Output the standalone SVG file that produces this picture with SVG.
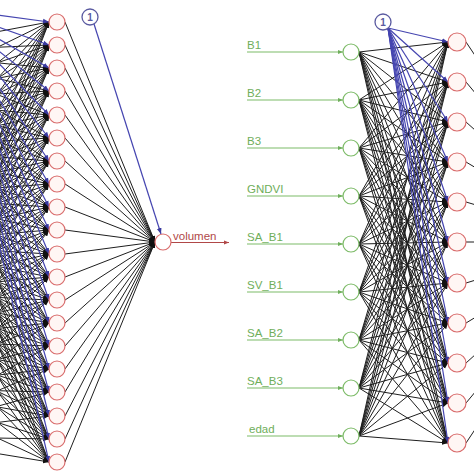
<svg xmlns="http://www.w3.org/2000/svg" width="474" height="474" viewBox="0 0 474 474">
<defs>
<marker id="ah" viewBox="0 0 10 10" refX="10" refY="5" markerWidth="6" markerHeight="6" markerUnits="userSpaceOnUse" orient="auto"><path d="M0,1 L10,5 L0,9 z" fill="#111"/></marker>
<marker id="ahb" viewBox="0 0 10 10" refX="10" refY="5" markerWidth="6" markerHeight="6" markerUnits="userSpaceOnUse" orient="auto"><path d="M0,1 L10,5 L0,9 z" fill="#3a3aa0"/></marker>
<marker id="ahg" viewBox="0 0 10 10" refX="10" refY="5" markerWidth="5" markerHeight="5" markerUnits="userSpaceOnUse" orient="auto"><path d="M0,1 L10,5 L0,9 z" fill="#6fae5a"/></marker>
<marker id="ahr" viewBox="0 0 10 10" refX="10" refY="5" markerWidth="5" markerHeight="5" markerUnits="userSpaceOnUse" orient="auto"><path d="M0,1 L10,5 L0,9 z" fill="#b04848"/></marker>
</defs>
<style>
.k line{stroke:#1e1e1e;stroke-width:1;marker-end:url(#ah)}
.b line{stroke:#4545b0;stroke-width:1.2;marker-end:url(#ahb)}
.g line{stroke:#7dbb68;stroke-width:1.2;marker-end:url(#ahg)}
.hid{fill:#fff6f4;stroke:#d96c6c;stroke-width:1.2}
.inp{fill:#fff;stroke:#7dbb68;stroke-width:1.2}
.bias{fill:#fff;stroke:#5a5aa0;stroke-width:1.3}
.bt{font-family:"Liberation Sans",Arial,sans-serif;font-size:10px;font-weight:bold;fill:#5a5aa0;text-anchor:middle}
.lab{font-family:"Liberation Sans",Arial,sans-serif;font-size:11.5px;fill:#6fae5a}
.out{font-family:"Liberation Sans",Arial,sans-serif;font-size:11.5px;fill:#b04848}
</style>
<rect width="474" height="474" fill="#fff"/>
<g id="connectors">
<g class="k">
<line x1="-110" y1="52" x2="49" y2="22"/><line x1="-110" y1="52" x2="49" y2="45"/><line x1="-110" y1="52" x2="49" y2="68"/><line x1="-110" y1="52" x2="49" y2="91"/><line x1="-110" y1="52" x2="49" y2="115"/><line x1="-110" y1="52" x2="49" y2="138"/><line x1="-110" y1="52" x2="49" y2="161"/><line x1="-110" y1="52" x2="49" y2="184"/><line x1="-110" y1="52" x2="49" y2="207"/><line x1="-110" y1="52" x2="49" y2="230"/><line x1="-110" y1="52" x2="49" y2="254"/><line x1="-110" y1="52" x2="49" y2="277"/><line x1="-110" y1="52" x2="49" y2="300"/><line x1="-110" y1="52" x2="49" y2="323"/><line x1="-110" y1="52" x2="49" y2="346"/><line x1="-110" y1="52" x2="49" y2="369"/><line x1="-110" y1="52" x2="49" y2="392"/><line x1="-110" y1="52" x2="49" y2="416"/><line x1="-110" y1="52" x2="49" y2="439"/><line x1="-110" y1="52" x2="49" y2="462"/>
<line x1="-110" y1="100" x2="49" y2="22"/><line x1="-110" y1="100" x2="49" y2="45"/><line x1="-110" y1="100" x2="49" y2="68"/><line x1="-110" y1="100" x2="49" y2="91"/><line x1="-110" y1="100" x2="49" y2="115"/><line x1="-110" y1="100" x2="49" y2="138"/><line x1="-110" y1="100" x2="49" y2="161"/><line x1="-110" y1="100" x2="49" y2="184"/><line x1="-110" y1="100" x2="49" y2="207"/><line x1="-110" y1="100" x2="49" y2="230"/><line x1="-110" y1="100" x2="49" y2="254"/><line x1="-110" y1="100" x2="49" y2="277"/><line x1="-110" y1="100" x2="49" y2="300"/><line x1="-110" y1="100" x2="49" y2="323"/><line x1="-110" y1="100" x2="49" y2="346"/><line x1="-110" y1="100" x2="49" y2="369"/><line x1="-110" y1="100" x2="49" y2="392"/><line x1="-110" y1="100" x2="49" y2="416"/><line x1="-110" y1="100" x2="49" y2="439"/><line x1="-110" y1="100" x2="49" y2="462"/>
<line x1="-110" y1="148" x2="49" y2="22"/><line x1="-110" y1="148" x2="49" y2="45"/><line x1="-110" y1="148" x2="49" y2="68"/><line x1="-110" y1="148" x2="49" y2="91"/><line x1="-110" y1="148" x2="49" y2="115"/><line x1="-110" y1="148" x2="49" y2="138"/><line x1="-110" y1="148" x2="49" y2="161"/><line x1="-110" y1="148" x2="49" y2="184"/><line x1="-110" y1="148" x2="49" y2="207"/><line x1="-110" y1="148" x2="49" y2="230"/><line x1="-110" y1="148" x2="49" y2="254"/><line x1="-110" y1="148" x2="49" y2="277"/><line x1="-110" y1="148" x2="49" y2="300"/><line x1="-110" y1="148" x2="49" y2="323"/><line x1="-110" y1="148" x2="49" y2="346"/><line x1="-110" y1="148" x2="49" y2="369"/><line x1="-110" y1="148" x2="49" y2="392"/><line x1="-110" y1="148" x2="49" y2="416"/><line x1="-110" y1="148" x2="49" y2="439"/><line x1="-110" y1="148" x2="49" y2="462"/>
<line x1="-110" y1="196" x2="49" y2="22"/><line x1="-110" y1="196" x2="49" y2="45"/><line x1="-110" y1="196" x2="49" y2="68"/><line x1="-110" y1="196" x2="49" y2="91"/><line x1="-110" y1="196" x2="49" y2="115"/><line x1="-110" y1="196" x2="49" y2="138"/><line x1="-110" y1="196" x2="49" y2="161"/><line x1="-110" y1="196" x2="49" y2="184"/><line x1="-110" y1="196" x2="49" y2="207"/><line x1="-110" y1="196" x2="49" y2="230"/><line x1="-110" y1="196" x2="49" y2="254"/><line x1="-110" y1="196" x2="49" y2="277"/><line x1="-110" y1="196" x2="49" y2="300"/><line x1="-110" y1="196" x2="49" y2="323"/><line x1="-110" y1="196" x2="49" y2="346"/><line x1="-110" y1="196" x2="49" y2="369"/><line x1="-110" y1="196" x2="49" y2="392"/><line x1="-110" y1="196" x2="49" y2="416"/><line x1="-110" y1="196" x2="49" y2="439"/><line x1="-110" y1="196" x2="49" y2="462"/>
<line x1="-110" y1="244" x2="49" y2="22"/><line x1="-110" y1="244" x2="49" y2="45"/><line x1="-110" y1="244" x2="49" y2="68"/><line x1="-110" y1="244" x2="49" y2="91"/><line x1="-110" y1="244" x2="49" y2="115"/><line x1="-110" y1="244" x2="49" y2="138"/><line x1="-110" y1="244" x2="49" y2="161"/><line x1="-110" y1="244" x2="49" y2="184"/><line x1="-110" y1="244" x2="49" y2="207"/><line x1="-110" y1="244" x2="49" y2="230"/><line x1="-110" y1="244" x2="49" y2="254"/><line x1="-110" y1="244" x2="49" y2="277"/><line x1="-110" y1="244" x2="49" y2="300"/><line x1="-110" y1="244" x2="49" y2="323"/><line x1="-110" y1="244" x2="49" y2="346"/><line x1="-110" y1="244" x2="49" y2="369"/><line x1="-110" y1="244" x2="49" y2="392"/><line x1="-110" y1="244" x2="49" y2="416"/><line x1="-110" y1="244" x2="49" y2="439"/><line x1="-110" y1="244" x2="49" y2="462"/>
<line x1="-110" y1="292" x2="49" y2="22"/><line x1="-110" y1="292" x2="49" y2="45"/><line x1="-110" y1="292" x2="49" y2="68"/><line x1="-110" y1="292" x2="49" y2="91"/><line x1="-110" y1="292" x2="49" y2="115"/><line x1="-110" y1="292" x2="49" y2="138"/><line x1="-110" y1="292" x2="49" y2="161"/><line x1="-110" y1="292" x2="49" y2="184"/><line x1="-110" y1="292" x2="49" y2="207"/><line x1="-110" y1="292" x2="49" y2="230"/><line x1="-110" y1="292" x2="49" y2="254"/><line x1="-110" y1="292" x2="49" y2="277"/><line x1="-110" y1="292" x2="49" y2="300"/><line x1="-110" y1="292" x2="49" y2="323"/><line x1="-110" y1="292" x2="49" y2="346"/><line x1="-110" y1="292" x2="49" y2="369"/><line x1="-110" y1="292" x2="49" y2="392"/><line x1="-110" y1="292" x2="49" y2="416"/><line x1="-110" y1="292" x2="49" y2="439"/><line x1="-110" y1="292" x2="49" y2="462"/>
<line x1="-110" y1="340" x2="49" y2="22"/><line x1="-110" y1="340" x2="49" y2="45"/><line x1="-110" y1="340" x2="49" y2="68"/><line x1="-110" y1="340" x2="49" y2="91"/><line x1="-110" y1="340" x2="49" y2="115"/><line x1="-110" y1="340" x2="49" y2="138"/><line x1="-110" y1="340" x2="49" y2="161"/><line x1="-110" y1="340" x2="49" y2="184"/><line x1="-110" y1="340" x2="49" y2="207"/><line x1="-110" y1="340" x2="49" y2="230"/><line x1="-110" y1="340" x2="49" y2="254"/><line x1="-110" y1="340" x2="49" y2="277"/><line x1="-110" y1="340" x2="49" y2="300"/><line x1="-110" y1="340" x2="49" y2="323"/><line x1="-110" y1="340" x2="49" y2="346"/><line x1="-110" y1="340" x2="49" y2="369"/><line x1="-110" y1="340" x2="49" y2="392"/><line x1="-110" y1="340" x2="49" y2="416"/><line x1="-110" y1="340" x2="49" y2="439"/><line x1="-110" y1="340" x2="49" y2="462"/>
<line x1="-110" y1="388" x2="49" y2="22"/><line x1="-110" y1="388" x2="49" y2="45"/><line x1="-110" y1="388" x2="49" y2="68"/><line x1="-110" y1="388" x2="49" y2="91"/><line x1="-110" y1="388" x2="49" y2="115"/><line x1="-110" y1="388" x2="49" y2="138"/><line x1="-110" y1="388" x2="49" y2="161"/><line x1="-110" y1="388" x2="49" y2="184"/><line x1="-110" y1="388" x2="49" y2="207"/><line x1="-110" y1="388" x2="49" y2="230"/><line x1="-110" y1="388" x2="49" y2="254"/><line x1="-110" y1="388" x2="49" y2="277"/><line x1="-110" y1="388" x2="49" y2="300"/><line x1="-110" y1="388" x2="49" y2="323"/><line x1="-110" y1="388" x2="49" y2="346"/><line x1="-110" y1="388" x2="49" y2="369"/><line x1="-110" y1="388" x2="49" y2="392"/><line x1="-110" y1="388" x2="49" y2="416"/><line x1="-110" y1="388" x2="49" y2="439"/><line x1="-110" y1="388" x2="49" y2="462"/>
<line x1="-110" y1="436" x2="49" y2="22"/><line x1="-110" y1="436" x2="49" y2="45"/><line x1="-110" y1="436" x2="49" y2="68"/><line x1="-110" y1="436" x2="49" y2="91"/><line x1="-110" y1="436" x2="49" y2="115"/><line x1="-110" y1="436" x2="49" y2="138"/><line x1="-110" y1="436" x2="49" y2="161"/><line x1="-110" y1="436" x2="49" y2="184"/><line x1="-110" y1="436" x2="49" y2="207"/><line x1="-110" y1="436" x2="49" y2="230"/><line x1="-110" y1="436" x2="49" y2="254"/><line x1="-110" y1="436" x2="49" y2="277"/><line x1="-110" y1="436" x2="49" y2="300"/><line x1="-110" y1="436" x2="49" y2="323"/><line x1="-110" y1="436" x2="49" y2="346"/><line x1="-110" y1="436" x2="49" y2="369"/><line x1="-110" y1="436" x2="49" y2="392"/><line x1="-110" y1="436" x2="49" y2="416"/><line x1="-110" y1="436" x2="49" y2="439"/><line x1="-110" y1="436" x2="49" y2="462"/>
<line x1="65" y1="22" x2="155" y2="242"/><line x1="65" y1="45" x2="155" y2="242"/><line x1="65" y1="68" x2="155" y2="242"/><line x1="65" y1="91" x2="155" y2="242"/><line x1="65" y1="115" x2="155" y2="242"/><line x1="65" y1="138" x2="155" y2="242"/><line x1="65" y1="161" x2="155" y2="242"/><line x1="65" y1="184" x2="155" y2="242"/><line x1="65" y1="207" x2="155" y2="242"/><line x1="65" y1="230" x2="155" y2="242"/><line x1="65" y1="254" x2="155" y2="242"/><line x1="65" y1="277" x2="155" y2="242"/><line x1="65" y1="300" x2="155" y2="242"/><line x1="65" y1="323" x2="155" y2="242"/><line x1="65" y1="346" x2="155" y2="242"/><line x1="65" y1="369" x2="155" y2="242"/><line x1="65" y1="392" x2="155" y2="242"/><line x1="65" y1="416" x2="155" y2="242"/><line x1="65" y1="439" x2="155" y2="242"/><line x1="65" y1="462" x2="155" y2="242"/>
<line x1="359" y1="52" x2="448" y2="42"/><line x1="359" y1="52" x2="448" y2="82"/><line x1="359" y1="52" x2="448" y2="122"/><line x1="359" y1="52" x2="448" y2="162"/><line x1="359" y1="52" x2="448" y2="202"/><line x1="359" y1="52" x2="448" y2="242"/><line x1="359" y1="52" x2="448" y2="283"/><line x1="359" y1="52" x2="448" y2="323"/><line x1="359" y1="52" x2="448" y2="363"/><line x1="359" y1="52" x2="448" y2="403"/><line x1="359" y1="52" x2="448" y2="443"/>
<line x1="359" y1="100" x2="448" y2="42"/><line x1="359" y1="100" x2="448" y2="82"/><line x1="359" y1="100" x2="448" y2="122"/><line x1="359" y1="100" x2="448" y2="162"/><line x1="359" y1="100" x2="448" y2="202"/><line x1="359" y1="100" x2="448" y2="242"/><line x1="359" y1="100" x2="448" y2="283"/><line x1="359" y1="100" x2="448" y2="323"/><line x1="359" y1="100" x2="448" y2="363"/><line x1="359" y1="100" x2="448" y2="403"/><line x1="359" y1="100" x2="448" y2="443"/>
<line x1="359" y1="148" x2="448" y2="42"/><line x1="359" y1="148" x2="448" y2="82"/><line x1="359" y1="148" x2="448" y2="122"/><line x1="359" y1="148" x2="448" y2="162"/><line x1="359" y1="148" x2="448" y2="202"/><line x1="359" y1="148" x2="448" y2="242"/><line x1="359" y1="148" x2="448" y2="283"/><line x1="359" y1="148" x2="448" y2="323"/><line x1="359" y1="148" x2="448" y2="363"/><line x1="359" y1="148" x2="448" y2="403"/><line x1="359" y1="148" x2="448" y2="443"/>
<line x1="359" y1="196" x2="448" y2="42"/><line x1="359" y1="196" x2="448" y2="82"/><line x1="359" y1="196" x2="448" y2="122"/><line x1="359" y1="196" x2="448" y2="162"/><line x1="359" y1="196" x2="448" y2="202"/><line x1="359" y1="196" x2="448" y2="242"/><line x1="359" y1="196" x2="448" y2="283"/><line x1="359" y1="196" x2="448" y2="323"/><line x1="359" y1="196" x2="448" y2="363"/><line x1="359" y1="196" x2="448" y2="403"/><line x1="359" y1="196" x2="448" y2="443"/>
<line x1="359" y1="244" x2="448" y2="42"/><line x1="359" y1="244" x2="448" y2="82"/><line x1="359" y1="244" x2="448" y2="122"/><line x1="359" y1="244" x2="448" y2="162"/><line x1="359" y1="244" x2="448" y2="202"/><line x1="359" y1="244" x2="448" y2="242"/><line x1="359" y1="244" x2="448" y2="283"/><line x1="359" y1="244" x2="448" y2="323"/><line x1="359" y1="244" x2="448" y2="363"/><line x1="359" y1="244" x2="448" y2="403"/><line x1="359" y1="244" x2="448" y2="443"/>
<line x1="359" y1="292" x2="448" y2="42"/><line x1="359" y1="292" x2="448" y2="82"/><line x1="359" y1="292" x2="448" y2="122"/><line x1="359" y1="292" x2="448" y2="162"/><line x1="359" y1="292" x2="448" y2="202"/><line x1="359" y1="292" x2="448" y2="242"/><line x1="359" y1="292" x2="448" y2="283"/><line x1="359" y1="292" x2="448" y2="323"/><line x1="359" y1="292" x2="448" y2="363"/><line x1="359" y1="292" x2="448" y2="403"/><line x1="359" y1="292" x2="448" y2="443"/>
<line x1="359" y1="340" x2="448" y2="42"/><line x1="359" y1="340" x2="448" y2="82"/><line x1="359" y1="340" x2="448" y2="122"/><line x1="359" y1="340" x2="448" y2="162"/><line x1="359" y1="340" x2="448" y2="202"/><line x1="359" y1="340" x2="448" y2="242"/><line x1="359" y1="340" x2="448" y2="283"/><line x1="359" y1="340" x2="448" y2="323"/><line x1="359" y1="340" x2="448" y2="363"/><line x1="359" y1="340" x2="448" y2="403"/><line x1="359" y1="340" x2="448" y2="443"/>
<line x1="359" y1="388" x2="448" y2="42"/><line x1="359" y1="388" x2="448" y2="82"/><line x1="359" y1="388" x2="448" y2="122"/><line x1="359" y1="388" x2="448" y2="162"/><line x1="359" y1="388" x2="448" y2="202"/><line x1="359" y1="388" x2="448" y2="242"/><line x1="359" y1="388" x2="448" y2="283"/><line x1="359" y1="388" x2="448" y2="323"/><line x1="359" y1="388" x2="448" y2="363"/><line x1="359" y1="388" x2="448" y2="403"/><line x1="359" y1="388" x2="448" y2="443"/>
<line x1="359" y1="436" x2="448" y2="42"/><line x1="359" y1="436" x2="448" y2="82"/><line x1="359" y1="436" x2="448" y2="122"/><line x1="359" y1="436" x2="448" y2="162"/><line x1="359" y1="436" x2="448" y2="202"/><line x1="359" y1="436" x2="448" y2="242"/><line x1="359" y1="436" x2="448" y2="283"/><line x1="359" y1="436" x2="448" y2="323"/><line x1="359" y1="436" x2="448" y2="363"/><line x1="359" y1="436" x2="448" y2="403"/><line x1="359" y1="436" x2="448" y2="443"/>
<line x1="466" y1="42" x2="600" y2="242"/><line x1="466" y1="82" x2="600" y2="242"/><line x1="466" y1="122" x2="600" y2="242"/><line x1="466" y1="162" x2="600" y2="242"/><line x1="466" y1="202" x2="600" y2="242"/><line x1="466" y1="242" x2="600" y2="242"/><line x1="466" y1="283" x2="600" y2="242"/><line x1="466" y1="323" x2="600" y2="242"/><line x1="466" y1="363" x2="600" y2="242"/><line x1="466" y1="403" x2="600" y2="242"/><line x1="466" y1="443" x2="600" y2="242"/>
</g>
<g class="b">
<line x1="-55" y1="8" x2="49" y2="22"/><line x1="-55" y1="8" x2="49" y2="45"/><line x1="-55" y1="8" x2="49" y2="68"/><line x1="-55" y1="8" x2="49" y2="91"/><line x1="-55" y1="8" x2="49" y2="115"/><line x1="-55" y1="8" x2="49" y2="138"/><line x1="-55" y1="8" x2="49" y2="161"/><line x1="-55" y1="8" x2="49" y2="184"/><line x1="-55" y1="8" x2="49" y2="207"/><line x1="-55" y1="8" x2="49" y2="230"/><line x1="-55" y1="8" x2="49" y2="254"/><line x1="-55" y1="8" x2="49" y2="277"/><line x1="-55" y1="8" x2="49" y2="300"/><line x1="-55" y1="8" x2="49" y2="323"/><line x1="-55" y1="8" x2="49" y2="346"/><line x1="-55" y1="8" x2="49" y2="369"/><line x1="-55" y1="8" x2="49" y2="392"/><line x1="-55" y1="8" x2="49" y2="416"/><line x1="-55" y1="8" x2="49" y2="439"/><line x1="-55" y1="8" x2="49" y2="462"/>
<line x1="94" y1="24" x2="161" y2="234"/>
<line x1="388" y1="28" x2="448" y2="42"/><line x1="388" y1="28" x2="448" y2="82"/><line x1="388" y1="28" x2="448" y2="122"/><line x1="388" y1="28" x2="448" y2="162"/><line x1="388" y1="28" x2="448" y2="202"/><line x1="388" y1="28" x2="448" y2="242"/><line x1="388" y1="28" x2="448" y2="283"/><line x1="388" y1="28" x2="448" y2="323"/><line x1="388" y1="28" x2="448" y2="363"/><line x1="388" y1="28" x2="448" y2="403"/><line x1="388" y1="28" x2="448" y2="443"/>
</g>
<g class="g">
<line x1="247" y1="52" x2="343" y2="52"/><line x1="247" y1="100" x2="343" y2="100"/><line x1="247" y1="148" x2="343" y2="148"/><line x1="247" y1="196" x2="343" y2="196"/><line x1="247" y1="244" x2="343" y2="244"/><line x1="247" y1="292" x2="343" y2="292"/><line x1="247" y1="340" x2="343" y2="340"/><line x1="247" y1="388" x2="343" y2="388"/><line x1="247" y1="436" x2="343" y2="436"/>
</g>
<line x1="171" y1="242.5" x2="229" y2="242.5" stroke="#b04848" stroke-width="1" marker-end="url(#ahr)"/>
</g>
<g id="left-hidden">
<circle class="hid" cx="57" cy="22" r="8"/><circle class="hid" cx="57" cy="45" r="8"/><circle class="hid" cx="57" cy="68" r="8"/><circle class="hid" cx="57" cy="91" r="8"/><circle class="hid" cx="57" cy="115" r="8"/><circle class="hid" cx="57" cy="138" r="8"/><circle class="hid" cx="57" cy="161" r="8"/><circle class="hid" cx="57" cy="184" r="8"/><circle class="hid" cx="57" cy="207" r="8"/><circle class="hid" cx="57" cy="230" r="8"/><circle class="hid" cx="57" cy="254" r="8"/><circle class="hid" cx="57" cy="277" r="8"/><circle class="hid" cx="57" cy="300" r="8"/><circle class="hid" cx="57" cy="323" r="8"/><circle class="hid" cx="57" cy="346" r="8"/><circle class="hid" cx="57" cy="369" r="8"/><circle class="hid" cx="57" cy="392" r="8"/><circle class="hid" cx="57" cy="416" r="8"/><circle class="hid" cx="57" cy="439" r="8"/><circle class="hid" cx="57" cy="462" r="8"/>
</g>
<g id="left-bias"><circle class="bias" cx="90" cy="17" r="8"/><text class="bt" x="90" y="20.5">1</text></g>
<g id="output"><circle class="hid" cx="163" cy="242" r="8" style="fill:#fff"/><text class="out" x="173" y="240">volumen</text></g>
<g id="inputs">
<g id="in-B1"><circle class="inp" cx="351" cy="52" r="8"/><text class="lab" x="247" y="49">B1</text></g>
<g id="in-B2"><circle class="inp" cx="351" cy="100" r="8"/><text class="lab" x="247" y="97">B2</text></g>
<g id="in-B3"><circle class="inp" cx="351" cy="148" r="8"/><text class="lab" x="247" y="145">B3</text></g>
<g id="in-GNDVI"><circle class="inp" cx="351" cy="196" r="8"/><text class="lab" x="247" y="193">GNDVI</text></g>
<g id="in-SA_B1"><circle class="inp" cx="351" cy="244" r="8"/><text class="lab" x="247" y="241">SA_B1</text></g>
<g id="in-SV_B1"><circle class="inp" cx="351" cy="292" r="8"/><text class="lab" x="247" y="289">SV_B1</text></g>
<g id="in-SA_B2"><circle class="inp" cx="351" cy="340" r="8"/><text class="lab" x="247" y="337">SA_B2</text></g>
<g id="in-SA_B3"><circle class="inp" cx="351" cy="388" r="8"/><text class="lab" x="247" y="385">SA_B3</text></g>
<g id="in-edad"><circle class="inp" cx="351" cy="436" r="8"/><text class="lab" x="249" y="433">edad</text></g>
</g>
<g id="right-bias"><circle class="bias" cx="383" cy="22" r="8"/><text class="bt" x="383" y="25.5">1</text></g>
<g id="right-hidden">
<circle class="hid" cx="457" cy="42" r="9"/><circle class="hid" cx="457" cy="82" r="9"/><circle class="hid" cx="457" cy="122" r="9"/><circle class="hid" cx="457" cy="162" r="9"/><circle class="hid" cx="457" cy="202" r="9"/><circle class="hid" cx="457" cy="242" r="9"/><circle class="hid" cx="457" cy="283" r="9"/><circle class="hid" cx="457" cy="323" r="9"/><circle class="hid" cx="457" cy="363" r="9"/><circle class="hid" cx="457" cy="403" r="9"/><circle class="hid" cx="457" cy="443" r="9"/>
</g>
</svg>
